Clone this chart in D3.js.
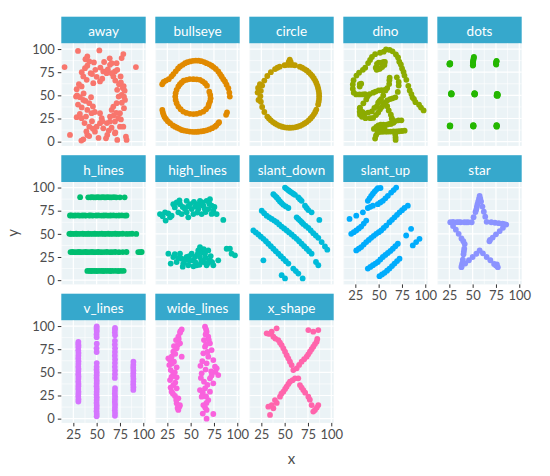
<!doctype html>
<html>
<head>
<meta charset="utf-8">
<title>Datasaurus Dozen</title>
<style>
  body { margin: 0; background: #fff; }
  svg text { font-family: Lato, 'Open Sans', sans-serif; }
</style>
</head>
<body>
<svg width="550" height="476"></svg>
<script src="https://d3js.org/d3.v7.min.js"></script>
<script>
// Values, one array per panel.
var away = [[15.6,80.5],[30,98],[52.9,98.5],[92.1,80.5],[21.4,7.2],[78.6,94.6],[76.8,90.3],[71.4,84.8],[66.1,84.8],[64.3,83],
  [57.1,75.8],[60.7,74],[69.6,75.8],[72.1,77.6],[67.9,70.4],[75.7,70.4],[53.6,65],[46.4,63.2],[39.3,66.8],[35.7,70.4],
  [37.5,79.4],[42.1,86.6],[47.1,85.6],[48.6,77.6],[43.6,74],[33.9,59.6],[28.6,56.7],[27.9,48.7],[32.1,48],[35.7,45.1],
  [42.1,41.5],[40,34.3],[44.6,30.7],[38.6,27.1],[28.6,26.4],[33.9,25.3],[42.1,16.2],[50,16.2],[48.2,10.8],[40,7.2],
  [35.7,2.5],[33.6,1.2],[53.6,30.7],[55.4,25.3],[53.6,19.9],[57.1,14.4],[61.4,7.2],[60,3.6],[72.1,1.8],[69.6,9],
  [75,16.2],[64.3,27.1],[66.1,34.3],[67.9,37.9],[71.4,41.5],[73.6,48.7],[76.8,50.5],[79.3,48.7],[80.4,45.1],[79.3,36.1],
  [75,30.7],[73.2,25.3],[69.6,21.7],[64.3,21.7],[78.6,16.2],[81.4,5.4],[82.1,1.8],[38,89],[40,82],[45,73],
  [50,70],[56,68],[62,78],[70,66],[74,62],[78,58],[80,55],[77,42],[31,62],[36,52],
  [38,44],[44,48],[46,38],[30,40],[34,37],[37,20],[45,22],[48,32],[63,12],[66,15],
  [68,28],[71,31],[56,22],[42,6],[46,14],[72,56],[79,60],[76,64],[66,74],[54,80],
  [58,86],[64,90],[40,92],[34,75],[29,50],[32,30],[39,11],[52,4],[76,24],[70,10],[61,20]];

var bullseye = [[19.5,62],[21,64.5],[23.5,66],[26.5,67.5],[29.5,70.5],[31.5,73],[34,76],[36.5,79],[38.6,81.2],[41.5,83],
  [44,84.8],[46.5,85.8],[49.5,86.6],[52.5,87.3],[55.5,87.6],[58.5,87.4],[61.5,86.9],[64.5,85.9],[67.1,84.8],[70,83.5],
  [72.5,82],[74.5,80.5],[77,78.5],[79.6,75.8],[81.5,73],[83.2,70.4],[85,67.5],[86.8,65],[88.5,61.5],[90.4,57.8],
  [91.5,53],[92,48.7],[89,31.5],[88,29],[80.5,21],[79.6,19.9],[77.5,17.5],[76,16.2],[73,14.5],[70,13.2],
  [67,12.2],[64,11.5],[61,11],[58,10.7],[55,10.5],[52,10.6],[49,10.9],[46,11.4],[43,12],[40.4,12.6],
  [38,13.8],[35.5,15],[33.2,16.2],[31,17.5],[28,19.9],[25.5,22],[23.5,24.5],[22,26.5],[21,29],[20.2,31.5],
  [19.6,34.3],[40.4,63.9],[42.5,65.8],[45.7,66.8],[49,67.6],[52.9,67.5],[56.5,67.3],[60,66.8],[62.8,65.2],[65.4,63.2],
  [67.5,60.5],[70,54],[71,50.5],[71.4,47],[70.8,43.5],[69.5,40.5],[68.9,37.9],[66.5,35],[63.6,32.5],[60,31],
  [56.4,30],[53,29.8],[49.3,30],[45.5,31],[42.1,32.5],[39.3,35],[36.8,37.9],[35,41.5],[33.9,45.1],[33.5,48.7],
  [33.9,52.3],[35,56],[36.8,59.6],[38.5,62]];

var circle = [[87,49],[86.9,52],[86.5,54.9],[85.9,57.8],[85.1,60.6],[84,63.4],[82.8,66],[81.3,68.5],[79.6,70.9],[77.8,73],
  [75.8,75],[73.6,76.9],[71.3,78.4],[68.8,79.8],[66.3,81],[61,82.5],[58.2,82.9],[55.5,83],[52.8,82.9],[50,82.5],
  [44.7,81],[42.2,79.8],[39.7,78.4],[35.2,75],[31.4,70.9],[28.2,66],[25.9,60.6],[24.5,54.9],[24,49],[24.5,43.1],
  [25.9,37.4],[28.2,32],[31.4,27.1],[33.2,25],[35.2,23],[37.4,21.1],[39.7,19.6],[42.2,18.2],[44.7,17],[47.3,16.1],
  [50,15.5],[52.8,15.1],[55.5,15],[58.2,15.1],[61,15.5],[63.7,16.1],[66.3,17],[68.8,18.2],[71.3,19.6],[73.6,21.1],
  [75.8,23],[77.8,25],[79.6,27.1],[81.3,29.5],[82.8,32],[84,34.6],[85.9,40.2],[86.5,43.1],[86.9,46],[21.5,58],
  [21,53],[22,45],[23.5,62],[54.5,86.5],[55.5,88.5],[56.5,86]];

var dino = [[55.4,97.2],[51.5,96],[46.2,94.5],[42.8,91.4],[40.8,88.3],[38.7,84.9],[35.6,79.9],[33.1,77.6],[29,74.5],[26.2,71.4],
  [23.1,66.4],[22.3,61.8],[22.3,57.2],[23.3,52.9],[25.9,51],[29.5,51],[32.8,51],[35.4,51.4],[40.3,51.4],[44.1,52.9],
  [46.7,54.1],[50,55.3],[53.1,55.6],[56.7,56],[59.2,57.9],[61.3,62.2],[61.5,66.4],[61.8,69.1],[57.4,55.3],[54.9,49.9],
  [52.6,46],[48.2,38.3],[49.5,42.2],[51,44.1],[45.4,36.4],[42.8,32.6],[38.7,31.4],[35.1,30.3],[32.6,32.2],[30,36.8],
  [33.6,41.4],[36.7,45.6],[38.2,49.1],[29.7,36],[29.7,32.2],[30,29.1],[32.1,26.8],[35.9,25.3],[41,25.3],[44.1,25.6],
  [47.2,28.7],[49.5,31.4],[51.5,34.9],[53.6,37.6],[55.1,40.6],[56.7,42.2],[59.2,44.5],[62.3,46],[64.9,46.8],[67.9,47.9],
  [70.5,53.7],[71.5,60.6],[71.5,64.5],[69.5,69.5],[46.9,79.9],[48.2,84.1],[50,85.3],[53.1,85.3],[55.4,86],[56.7,86],
  [56.2,82.9],[53.8,80.6],[51.3,78.7],[50,78.7],[47.9,77.6],[29.7,59.5],[29.7,62.2],[31.3,62.6],[57.9,99.5],[61.8,99.1],
  [64.9,97.6],[68.5,94.1],[70.8,91],[72.1,86.4],[73.8,83.3],[75.1,79.1],[76.7,75.3],[77.7,71.4],[79.7,66.8],[81.8,60.3],
  [83.3,55.3],[85.1,51.4],[86.4,47.6],[87.9,46],[89.5,42.6],[93.3,39.9],[95.4,36.8],[98.2,33.7],[56.7,40.6],[59.2,38.3],
  [60.8,33.7],[63.1,29.1],[64.1,25.3],[64.4,24.1],[74.4,23],[71.3,23],[67.9,22.2],[65.9,20.3],[63.1,19.1],[61.3,19.1],
  [58.7,18.3],[55.1,18.3],[52.3,18.3],[49.7,17.6],[47.4,16],[44.9,13.7],[48.7,14.9],[51.3,14.9],[54.1,14.9],[56.2,14.1],
  [52.1,12.6],[48.7,9.5],[47.2,6.8],[46.2,3.3],[50.5,10.5],[53.6,10.6],[56.7,10.8],[59.7,10.8],[62.8,10.9],[65.9,11],
  [68.9,11],[71.8,11.2],[74.9,11.5],[77.9,11.8],[67.8,7.8],[68.1,4.6],[68.2,1.8]];

var dots = [[25.3,84.5],[25.7,84],[25.1,83.6],[25.9,84.9],[25.5,83.2],[26,84.2],
  [51.2,90.8],[51,89.5],[50.8,88.2],[50.5,87],[50.3,85.6],[50.4,84.2],[50.6,83],[50.2,82.2],[51.4,91.6],
  [75.6,87.3],[75.4,86.2],[75.2,85],[75,84],[75.3,83.2],[75.7,86.8],
  [27,51.6],[27.4,52],[26.8,51.2],[27.3,51],[26.9,52.3],[27.6,51.5],
  [52,51.6],[52.4,52.2],[51.7,51.1],[52.3,50.9],[51.9,52.4],[52.6,51.6],
  [76,50.5],[76.5,51.2],[75.6,49.8],[76.8,50.2],[75.9,51.6],[76.6,49.4],[77,51],
  [25.7,17],[26.1,17.4],[25.4,16.6],[25.9,16.4],[25.5,17.6],
  [50.7,17],[51.1,17.5],[50.4,16.6],[50.9,16.3],[50.5,17.7],
  [75.7,17],[76.1,17.6],[75.4,16.5],[75.9,16.2],[75.5,17.8]];

var hLines = [[32.3,89.6],[41,89.5],[43.5,89.4],[45,89.6],[47,89.5],[49,89.4],[51,89.6],[52.5,89.5],[54.6,89.4],[56.5,89.6],
  [58.3,89.5],[60,89.4],[62,89.6],[64.2,89.5],[66,89.4],[68.5,89.6],[71,89.5],[75,89.4],[80,89.5],
  [21.4,69.8],[23,69.9],[25,69.7],[27,69.8],[30,69.9],[32,69.7],[34.6,69.8],[37,69.9],[38.5,69.7],[42,69.8],
  [44,69.9],[46,69.7],[49.5,69.8],[52,69.9],[55,69.7],[57.5,69.8],[60,69.9],[62.5,69.7],[65,69.8],[68,69.9],
  [71,69.7],[74,69.8],[77,69.9],[80,69.7],[82,69.8],
  [20.7,50],[22,50.1],[24,49.9],[26,50],[28,50.1],[30,49.9],[32.5,50],[35,50.1],[37,49.9],[39.5,50],
  [41,50.1],[43.5,49.9],[46,50],[48,50.1],[50.5,49.9],[53,50],[55.5,50.1],[58,49.9],[60,50],[62.5,50.1],
  [65,49.9],[67.5,50],[70,50.1],[72.5,49.9],[75,50],[78,50.1],[82,49.9],[85,50],[88,50.1],[92.5,49.9],
  [22,30.3],[24,30.4],[26.5,30.2],[29,30.3],[31,30.4],[33,30.2],[35.5,30.3],[38,30.4],[40,30.2],[42.5,30.3],
  [45,30.4],[47.5,30.2],[50,30.3],[52,30.4],[55,30.2],[58,30.3],[61,30.4],[64.5,30.2],[67,30.3],[70,30.4],
  [74,30.2],[78,30.3],[82,30.4],[94.6,30.3],[96.5,30.2],[98.3,30.4],
  [40,10],[42,10.1],[44,9.9],[46,10],[48,10.1],[50,9.9],[52.5,10],[55,10.1],[57,9.9],[59.5,10],
  [62,10.1],[64.5,9.9],[67,10],[70,10.1],[73,9.9],[76,10],[79,10.1]];

var highLines = [[17.1,71.4],[22.5,73.2],[23.2,64.3],[27.9,67.9],[29.6,69.6],[31.4,82.1],[35,83.9],[38.6,82.1],[36.8,73.2],[40.4,71.4],
  [43.9,76.8],[45.7,85.7],[49.3,82.1],[51.1,76.8],[52.9,71.4],[56.4,82.1],[58.2,76.8],[60,85.7],[61.8,71.4],[63.6,80.4],
  [67.1,85.7],[70.7,87.5],[68.9,76.8],[72.5,80.4],[74.3,75],[77.9,71.4],[85,65],[45.7,73.2],[47.5,67.9],[33,78.5],
  [41.5,79],[47,79.5],[53.5,84.5],[55,79.5],[59,81],[62.5,84],[65,77],[66,73.5],[70,82.5],[72.5,71.5],
  [75.5,79],[26,72],[20,69],[38,86],[57,73],
  [26.1,28.6],[28.6,17.9],[31.4,25],[35,19.6],[38.6,28.6],[40.4,23.2],[42.1,17.9],[45.7,25],[47.5,16.1],[51.1,28.6],
  [52.9,21.4],[56.4,16.1],[58.2,32.1],[60,25],[63.6,19.6],[65.4,28.6],[67.1,16.1],[70.7,21.4],[74.3,16.1],[79.6,21.4],
  [60,35.7],[68.9,32.1],[88.6,33.9],[92.1,33.9],[93.9,28.6],[97.5,26.8],[54.6,25],[49,21],[44,21.5],[37,24],
  [33,28],[48.5,26],[55.5,19],[57.5,28],[61.5,21],[62.5,30],[66,24],[68.5,18.5],[71.5,26],[73,19.5],
  [64,33.5],[53,15],[59.5,16.5],[41.5,14.5]];

var slantDown = [[50.4,100],[52,98.6],[54,97.1],[55.7,95.8],[57.5,94.6],[59.3,93.3],[61.1,92.1],[64.7,89.3],[66.4,87.5],[68.2,85.7],
  [71.8,80.4],[73.6,78],[75.4,75.7],[78.9,73.2],[87.2,65],
  [37.9,92.9],[39.7,91.1],[41.5,89.3],[43.3,87.1],[45,85],[46.8,83.2],[48.6,81.4],[51.3,79.6],[54,77.9],[62.9,67.9],
  [64.7,66.1],[66.5,64.3],[68.3,62.5],[70,60.7],[72.7,58.6],[75.4,56.4],[78,53.6],[80.7,50.7],[83.4,48.2],[86.1,45.7],
  [89.7,41.1],[93.2,36.4],[95.7,32.9],
  [25.4,75],[28,72.3],[30.7,69.6],[33.4,67.9],[36.1,66.1],[38.8,64.3],[41.5,62.5],[44.2,60.2],[46.8,57.9],[49.5,55.8],
  [52.2,53.6],[54.8,51.5],[57.5,49.3],[60.2,47],[62.9,44.6],[65.5,42],[68.2,39.3],[70.9,36.6],[73.6,33.9],[76.2,31.3],
  [78.9,28.6],[83.6,19.6],[86.1,16.1],
  [16.5,53.6],[19.1,51.5],[21.8,49.3],[24.5,47],[27.2,44.6],[29.9,42],[32.5,39.3],[35.2,36.6],[37.9,33.9],[40.5,31.3],
  [43.2,28.6],[45.9,25.9],[48.6,23.2],[51.3,20.5],[54,17.9],[59.3,12.5],[62,9.8],[64.7,7.1],[69.3,1.8],
  [27.2,21.4],[46.8,5.4],[50.4,1.8]];

var slantUp = [[38.4,85.7],[40.2,88.4],[42,91.1],[43.8,93.4],[45.6,95.7],[47.4,97.5],[49.1,99.3],[52,99.5],
  [18.8,66.1],[26,69.6],[33.1,73.2],[38.4,77.9],[41.1,79.2],[43.8,80.4],[49.1,82.1],[51.8,83.9],[54.5,85.7],[57.2,88.4],
  [59.9,91.1],[63.4,94.6],[66.1,97.3],[68.8,100],
  [20.6,50],[23.3,51.8],[26,53.6],[28.7,55.8],[31.3,57.9],[34,61.1],[36.7,64.3],
  [26,32.1],[28.7,33.9],[31.3,35.7],[34,38.4],[36.7,41.1],[39.4,43.4],[42,45.7],[44.7,47.9],[47.4,50],[50.1,51.8],
  [52.7,53.6],[55.4,56.3],[58.1,58.9],[61.6,62.5],[64.3,65.2],[67,67.9],[69.7,70.6],[72.4,73.2],[75.1,75.6],[77.7,77.9],
  [81.3,80.4],
  [38.4,12.5],[41.1,14.3],[43.8,16.1],[46.5,17.9],[49.1,19.6],[51.8,22.3],[54.5,25],[57.2,27.2],[59.9,29.3],[62.6,31.6],
  [65.2,33.9],[67.9,36.6],[70.6,39.3],
  [50.9,4.3],[53.6,6.1],[56.3,7.9],[59,10.2],[61.6,12.5],[64.3,15.2],[67,17.9],[69.7,20.6],[72.4,23.2],
  [84.8,55.4],[79.5,48.2],[90.2,41.1],[93.8,44.6],[86.6,37.5]];

var star = [[57.5,91],[56.8,88],[56,85],[55.2,82],[54.5,79],[53.8,76],[53,73.5],[51,68],[49,62.5],[45,62.5],
  [43,62.4],[41,62.5],[37,62.5],[35,62.6],[33,62.6],[29,63],[26,62.5],[29,58.5],[32,54.5],[35,50],
  [38,45],[40,42],[41.5,39],[41,34],[40.6,31],[40.2,28],[39.5,22],[38.8,18],[38.2,15.5],[38,14],
  [42,18],[46,21.5],[50,25],[54,28.5],[57.5,32],[61,29],[65,25],[69,21.5],[73,17.5],[75,15.8],
  [77,14],[76,17],[68,42],[68.6,43.5],[71.5,46],[75,49.5],[79,53],[82.5,56.5],[86,60],[84,60.5],
  [82,61],[78,61.5],[74,62],[70,62.5],[65,63],[63.5,68.5],[62,74],[60.5,79.5],[59,85],[58.2,88]];

var vLines = [[30.4,18.5],[30.5,21],[30.3,24],[30.4,26.5],[30.5,29],[30.3,32],[30.4,35],[30.5,37.5],[30.3,40],[30.4,43],
  [30.5,45.5],[30.3,48],[30.4,51],[30.5,53.5],[30.3,56],[30.4,59],[30.5,62],[30.3,65],[30.4,68],[30.5,71],
  [30.3,74],[30.4,77],[30.5,79],[30.3,81],[30.4,83],
  [50,2.5],[50.1,5],[49.9,8],[50,11],[50.1,14],[49.9,17],[50,20],[50.1,23],[49.9,26],[50,29],
  [50.1,32],[49.9,35],[50,38],[50.1,41],[49.9,44],[50,47],[50.1,50],[49.9,53],[50,56],[50.1,60],
  [50,72],[49.9,76],[50.1,81],[50,88],[49.9,91],[50.1,94],[50,96],[49.9,98],[50.1,99.7],
  [69.6,3],[69.7,6],[69.5,9],[69.6,12],[69.7,15],[69.5,18],[69.6,21],[69.7,24],[69.5,27],[69.6,30],
  [69.7,33],[69.5,44],[69.6,48],[69.7,52],[69.5,56],[69.6,60],[69.7,64],[69.5,68],[69.6,72],[69.7,76],
  [69.5,80],[69.6,84],[69.7,90],[69.5,93],[69.6,96],[69.7,98],
  [89.3,31],[89.4,34],[89.2,37],[89.3,40],[89.4,43],[89.2,46],[89.3,49],[89.4,52],[89.2,55],[89.3,58],[89.4,61.5]];

var wideLines = [[40.4,96.4],[38.6,92.8],[36.8,88.5],[34.3,84.9],[38.6,81.3],[32.1,78.4],[35,75.9],[31.4,72.3],[29.6,66.9],[26.1,65.1],
  [32.1,61.5],[27.1,57.9],[35,55.4],[28.6,52.5],[31.4,48.2],[35,44.6],[27.9,41.7],[31.4,36.3],[35,32.7],[29.6,29.1],
  [33.2,24.5],[36.8,21.9],[35,16.5],[37.9,12.9],[36.8,9.4],[40.4,66.9],[39,94.5],[37.2,86],[36,79.5],[33.5,70],
  [28,63],[30,59.5],[33,50],[29.5,45],[33.5,39],[28.5,33.5],[31,27],[34.5,20],[38.5,14.5],[36,11.5],
  [65.4,99.3],[67.1,93.9],[68.9,88.5],[64.3,84.9],[70.7,81.3],[65.4,77.7],[72.5,74.1],[63.6,70.5],[68.9,66.9],[74.3,63.3],
  [67.1,59.7],[77.9,54.3],[79.6,47.1],[61.8,48.9],[70.7,43.5],[64.3,39.9],[74.3,38.1],[65.4,32.7],[70.7,29.1],[61.8,23.7],
  [68.9,20.1],[63.6,14.7],[67.1,9.4],[74.3,5],[67.1,0],[60,30.9],[76.1,56.1],[66.5,96.5],[66,91],[69.5,85],
  [66.5,80],[68,72],[62.5,62],[66,53],[76.5,50.5],[72,51],[61,44],[68,36.5],[63,28],[66.5,24],
  [67,17],[65.5,12],[63,5.5],[72.5,46.5],[60.5,57]];

var xShape = [[30.7,92.1],[33.5,91.5],[36.1,93.9],[41.4,97.5],[37.9,88.5],[40,86.5],[43.2,84.9],[45,82],[46.8,79.5],[48.6,76],
  [50.4,72.3],[52.2,68.5],[53.9,65.1],[55.7,61.5],[57.5,57.9],[59.3,52.5],
  [75.4,95.7],[80.7,93.9],[86.1,95.7],[85,86],[84.3,83.1],[82.5,80.5],[80.7,77.7],[78.9,75],[77.1,72.3],[75.3,69.5],
  [73.6,66.9],[70.9,64.2],[68.2,61.5],[65.5,58],[62.9,54.3],
  [34.3,4],[32.5,12.9],[37.9,11.2],[36.1,14.7],[39.6,20.1],[41.5,17],[45,23.7],[46.5,27],[48.6,29.1],[50.5,32],
  [52.1,34.5],[54,37.5],[55.7,39.9],[58.5,41.5],[61.1,43.5],[64.6,43.5],
  [66.4,36.3],[68.2,33.5],[70,30.9],[72,28],[75.4,23.7],[77,20.5],[78.9,14.7],[80.7,7.6],[82.5,9.4],[86.1,14.7],
  [84.5,12]];

var names = ['away', 'bullseye', 'circle', 'dino', 'dots', 'h_lines', 'high_lines',
  'slant_down', 'slant_up', 'star', 'v_lines', 'wide_lines', 'x_shape'];
var sets = [away, bullseye, circle, dino, dots, hLines, highLines,
  slantDown, slantUp, star, vLines, wideLines, xShape];
var colours = ['#F8766D', '#E18A00', '#BE9C00', '#8CAB00', '#24B700', '#00BE70', '#00C1AB',
  '#00BBDA', '#00ACFC', '#8B93FF', '#D575FE', '#F962DD', '#FF65AC'];
var majorTicks = [25, 50, 75, 100];
var yTicks = [0, 25, 50, 75, 100];
var minorTicks = [12.5, 37.5, 62.5, 87.5];

var svg = d3.select('svg');
var panelW = 84.4, panelH = 102.4, stripH = 26.8;

var x = d3.scaleLinear().domain([12.1, 102.6]).range([0, panelW]);
var y = d3.scaleLinear().domain([-4.6, 106]).range([panelH, 0]);

names.forEach(function(name, i) {
  var col = i % 5, row = Math.floor(i / 5);
  var left = 61.3 + 94 * col, top = 16.7 + 138.5 * row;

  // facet strip
  svg.append('rect')
    .attr('x', left).attr('y', top)
    .attr('width', panelW).attr('height', stripH)
    .attr('fill', '#36a8cc');
  svg.append('text')
    .attr('x', left + panelW / 2).attr('y', top + stripH / 2 + 1)
    .attr('text-anchor', 'middle')
    .attr('dominant-baseline', 'central')
    .attr('fill', '#fff')
    .attr('font-size', 13.5)
    .text(name);

  var g = svg.append('g').attr('transform', 'translate(' + left + ',' + (top + stripH) + ')');
  g.append('rect')
    .attr('width', panelW).attr('height', panelH)
    .attr('fill', '#ebf3f6');

  // minor then major grid
  minorTicks.forEach(function(t) {
    g.append('line').attr('x1', x(t)).attr('x2', x(t)).attr('y1', 0).attr('y2', panelH)
      .attr('stroke', '#fff').attr('stroke-width', 0.6);
    g.append('line').attr('x1', 0).attr('x2', panelW).attr('y1', y(t)).attr('y2', y(t))
      .attr('stroke', '#fff').attr('stroke-width', 0.6);
  });
  majorTicks.forEach(function(t) {
    g.append('line').attr('x1', x(t)).attr('x2', x(t)).attr('y1', 0).attr('y2', panelH)
      .attr('stroke', '#fff').attr('stroke-width', 1.2);
  });
  yTicks.forEach(function(t) {
    g.append('line').attr('x1', 0).attr('x2', panelW).attr('y1', y(t)).attr('y2', y(t))
      .attr('stroke', '#fff').attr('stroke-width', 1.2);
  });

  g.selectAll('circle')
    .data(sets[i])
    .enter().append('circle')
    .attr('cx', function(d) { return x(d[0]); })
    .attr('cy', function(d) { return y(d[1]); })
    .attr('r', 2.9)
    .attr('fill', colours[i]);

  if (col === 0) {
    var ya = g.append('g').call(d3.axisLeft(y).tickValues(yTicks).tickSize(3.5).tickPadding(3));
    styleAxis(ya);
  }
  if (i >= 8) {
    var xa = g.append('g').attr('transform', 'translate(0,' + panelH + ')')
      .call(d3.axisBottom(x).tickValues(majorTicks).tickSize(3.5).tickPadding(3));
    styleAxis(xa);
  }
});

function styleAxis(a) {
  a.select('.domain').remove();
  a.selectAll('.tick line').attr('stroke', '#333').attr('stroke-width', 1);
  a.selectAll('.tick text')
    .attr('fill', '#4d4d4d')
    .attr('font-size', 13)
    .attr('font-family', "Lato, 'Open Sans', sans-serif");
}

// axis titles
svg.append('text')
  .attr('x', 291.5).attr('y', 464)
  .attr('text-anchor', 'middle')
  .attr('fill', '#4d4d4d')
  .attr('font-size', 15)
  .text('x');
svg.append('text')
  .attr('transform', 'translate(18,233) rotate(-90)')
  .attr('text-anchor', 'middle')
  .attr('fill', '#4d4d4d')
  .attr('font-size', 15)
  .text('y');
</script>
</body>
</html>
